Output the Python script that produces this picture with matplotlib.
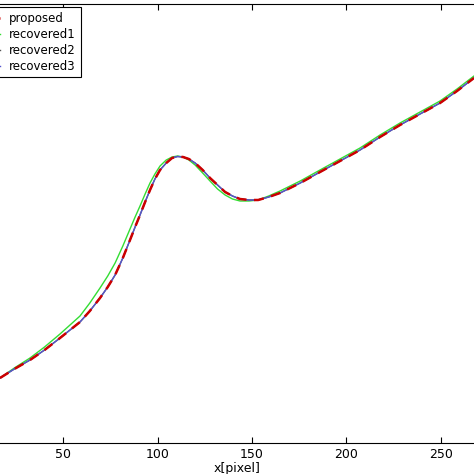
import matplotlib
matplotlib.use('Agg')
import matplotlib.pyplot as plt

# values (y in arbitrary units)
x = [16.4, 24.0, 32.3, 40.0, 48.2, 53.5, 58.8, 64.0, 69.4, 73.5, 77.4, 81.5, 85.3, 88.0,
     90.6, 93.3, 95.9, 98.5, 101.2, 104.5, 107.6, 110.5, 113.4, 116.5, 119.8, 123.8,
     127.7, 131.7, 135.7, 139.6, 143.6, 148.4, 153.2, 158.8, 164.8, 175.5, 186.0,
     196.6, 207.2, 217.8, 228.4, 239.0, 249.6, 258.6, 267.6]
proposed = [96, 105, 114, 124, 136, 144, 152, 163, 176, 187, 199, 216, 234, 247,
            259, 272, 284, 295, 304, 311, 316, 317.5, 317, 315, 311, 304,
            296, 289, 282, 278, 275, 274, 274, 277, 281, 291, 302,
            313, 324, 337, 349, 360, 371, 383, 396]
recovered1 = [96, 106, 116, 127, 140, 149, 158, 171, 186, 198, 211, 228, 245, 257,
              268, 280, 291, 300, 308, 314, 317, 318, 317, 314, 309, 301,
              293, 285, 279, 275, 273, 273, 274, 278, 283, 293, 304,
              315, 326, 339, 351, 362, 373, 385, 398]
recovered2 = proposed
recovered3 = proposed

fig = plt.figure(figsize=(4.74, 4.74), dpi=100)
ax = fig.add_axes([0, 31 / 474, 1, 439 / 474])

ax.plot(x, recovered1, color='#33dd33', linewidth=1.0, label='recovered1', zorder=2)
ax.plot(x, recovered2, color='#555555', linewidth=1.0, label='recovered2', zorder=3)
ax.plot(x, recovered3, color='#5555cc', linewidth=1.0, label='recovered3', zorder=4)
ax.plot(x, proposed, color='#cc0000', linewidth=1.8, linestyle=(0, (4, 3)),
        label='proposed', zorder=5)

ax.set_xlim(16.4, 267.6)
ax.set_ylim(31, 470)
ax.set_xticks([50, 100, 150, 200, 250])
ax.set_yticks([])
ax.tick_params(axis='x', direction='in', top=True, length=4, labelsize=9)
ax.spines['left'].set_visible(False)
ax.spines['right'].set_visible(False)
ax.set_xlabel('x[pixel]', fontsize=9, labelpad=1)

h, l = ax.get_legend_handles_labels()
order = [3, 0, 1, 2]
leg = ax.legend([h[i] for i in order], [l[i] for i in order], loc='upper left',
                bbox_to_anchor=(-0.06, 0.993), fontsize=8.5, fancybox=False,
                edgecolor='black', framealpha=1, borderaxespad=0,
                handlelength=2.0, labelspacing=0.25)
leg.get_frame().set_linewidth(0.8)

fig.savefig('out.png', dpi=100)
